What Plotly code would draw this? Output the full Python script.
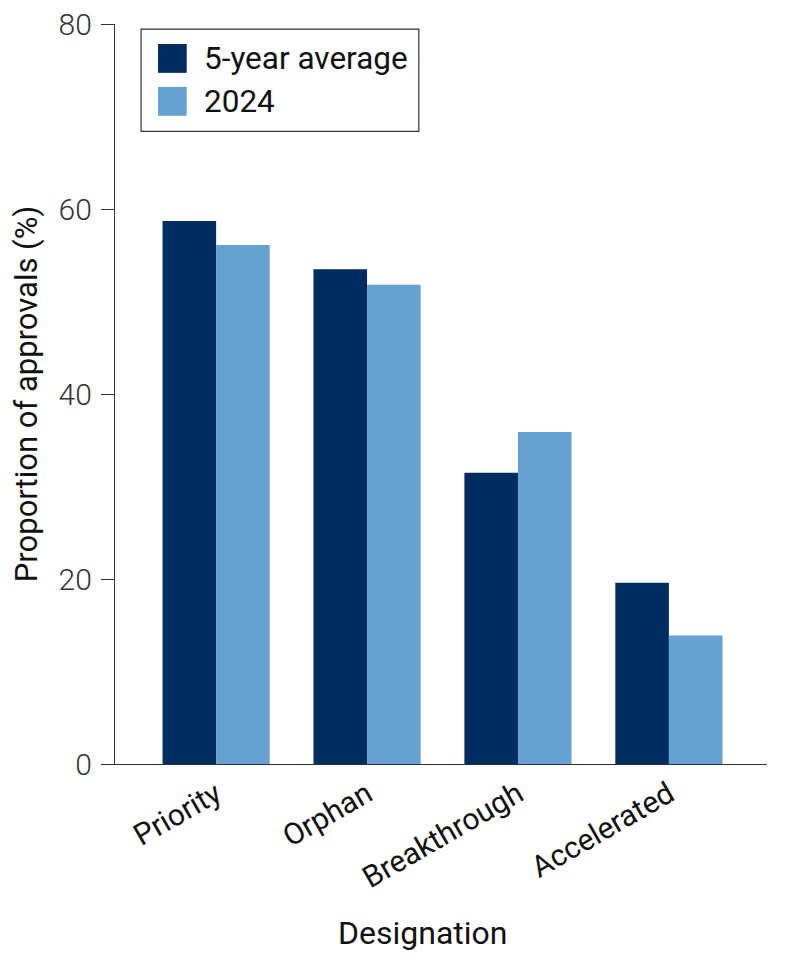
import plotly.graph_objects as go

# categories and values
designations = ['Priority', 'Orphan', 'Breakthrough', 'Accelerated']
avg_5yr = [58.7, 53.5, 31.5, 19.6]
share_2024 = [56.1, 51.8, 35.9, 13.9]
series_names = ['5-year average', '2024']
y_ticks = [0, 20, 40, 60, 80]

dark_blue = '#002c5f'
light_blue = '#66a1d2'
axis_grey = '#333333'
font_family = 'Roboto, Arial, sans-serif'

fig = go.Figure()
fig.add_trace(go.Bar(x=designations, y=avg_5yr, name=series_names[0],
                     marker=dict(color=dark_blue, line=dict(width=0))))
fig.add_trace(go.Bar(x=designations, y=share_2024, name=series_names[1],
                     marker=dict(color=light_blue, line=dict(width=0))))

# hand-built legend box (large square swatches like the original)
fig.add_shape(type='rect', xref='paper', yref='paper', x0=0.04, x1=0.466, y0=0.855, y1=0.993,
              line=dict(color=axis_grey, width=1.2), fillcolor='white')
swatches = [(dark_blue, 0.934, 0.973), (light_blue, 0.876, 0.915)]
for (col, y0, y1), label in zip(swatches, series_names):
    fig.add_shape(type='rect', xref='paper', yref='paper', x0=0.066, x1=0.110, y0=y0, y1=y1,
                  line=dict(width=0), fillcolor=col)
    fig.add_annotation(xref='paper', yref='paper', x=0.134, y=(y0 + y1) / 2, text=label,
                       showarrow=False, xanchor='left', yanchor='middle',
                       font=dict(family=font_family, size=31.5, color='#111111'))

# x title sits a little left of the plot centre in the original
fig.add_annotation(xref='paper', yref='paper', x=0.472, y=-0.228, text='Designation',
                   showarrow=False, xanchor='center', yanchor='middle',
                   font=dict(family=font_family, size=32, color='#111111'))

# the page body adds an 8px offset, so margins are trimmed on the top/left
fig.update_layout(
    width=800, height=970,
    margin=dict(l=107, r=41, t=16, b=214),
    plot_bgcolor='white', paper_bgcolor='white',
    barmode='group', bargap=0.29, bargroupgap=0,
    showlegend=False,
    font=dict(family=font_family, color='#111111'),
)
fig.update_xaxes(
    range=[-0.67, 3.65], showline=True, linecolor=axis_grey, linewidth=1.2,
    ticks='', tickangle=-30, tickfont=dict(size=30, color='#111111'),
    showgrid=False, zeroline=False, automargin=False,
)
fig.update_yaxes(
    range=[0, 80], tickvals=y_ticks, showline=True, linecolor=axis_grey, linewidth=1.2,
    ticks='outside', ticklen=13, tickwidth=1.2, tickcolor=axis_grey, ticklabelstandoff=3,
    ticklabeloverflow='allow',
    tickfont=dict(size=30, color=axis_grey, weight=300),
    title=dict(text='Proportion of approvals (%)', font=dict(size=31), standoff=14),
    showgrid=False, zeroline=False, automargin=False,
)

fig.write_html('out.html')
